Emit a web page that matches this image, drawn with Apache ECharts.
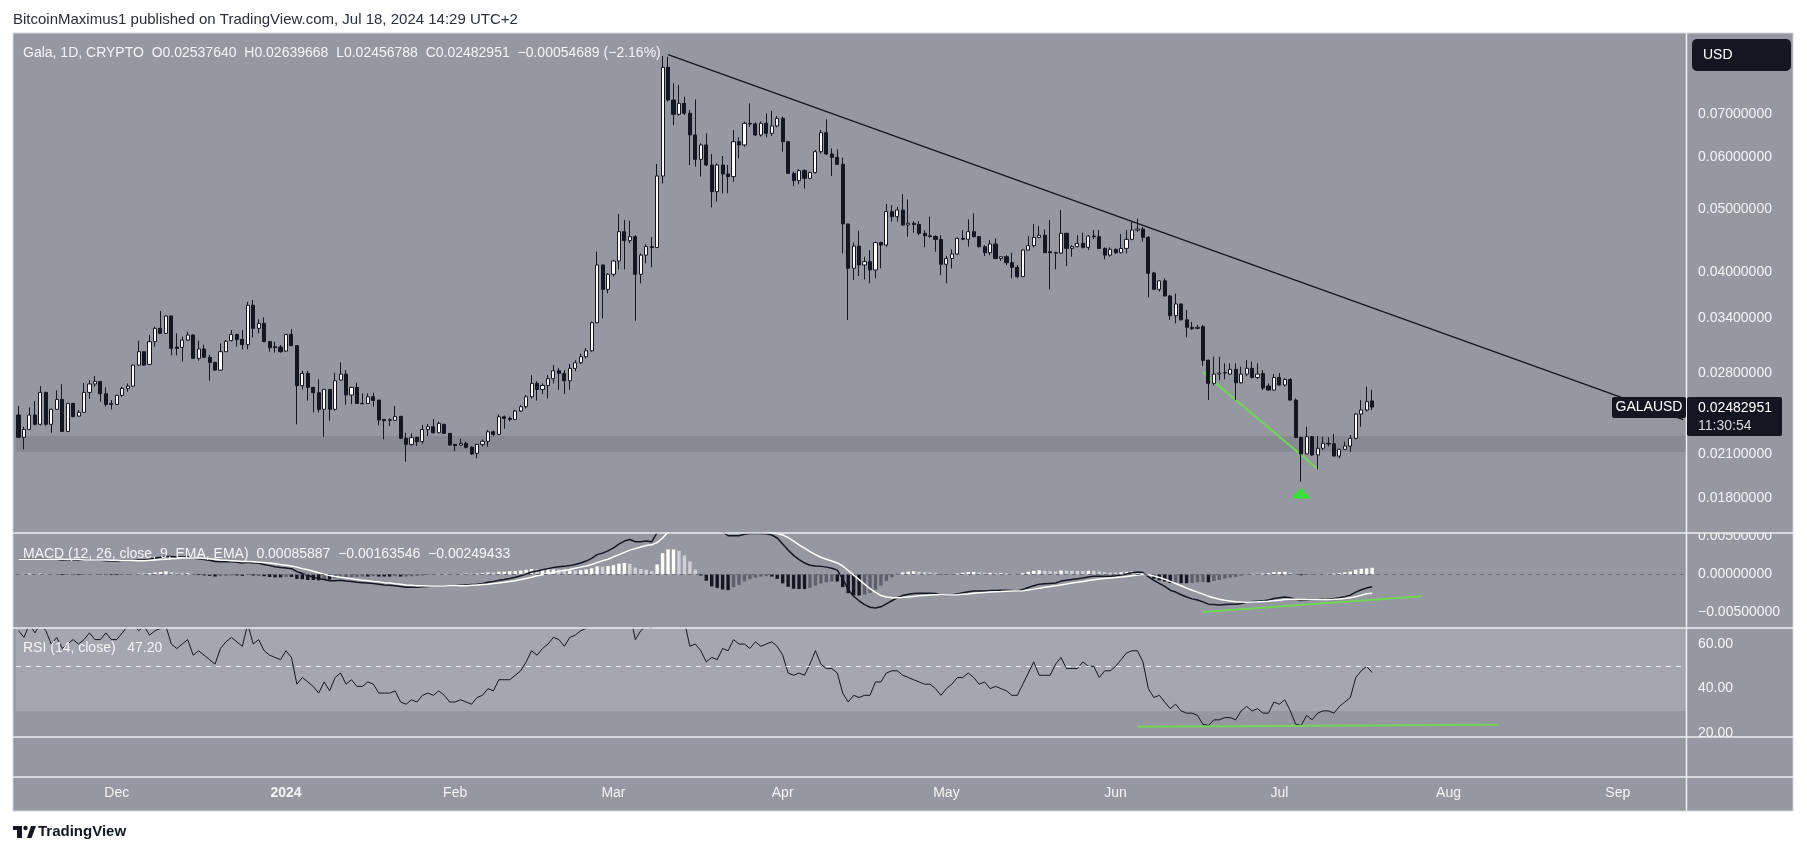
<!DOCTYPE html>
<html>
<head>
<meta charset="utf-8">
<title>GALAUSD 1D</title>
<script src="https://cdn.jsdelivr.net/npm/echarts@6.0.0/dist/echarts.min.js"></script>
<style>
  html, body { margin: 0; padding: 0; background: #ffffff; }
  #chart { width: 1807px; height: 855px; }
</style>
</head>
<body>
<div id="chart"></div>
<script>
// daily candles, Nov 13 2023 .. Jul 18 2024 (axis runs on to Sep 13 2024)
var startDay = '2023-11-13';
var dayCount = 306;

var open = [.02414,.02231,.02294,.02414,.02336,.02615,.02336,.02463,.02551,.02278,
  .02515,.02405,.02437,.02615,.02694,.02719,.02603,.02506,.02506,.02588,
  .02652,.02674,.0288,.0302,.02887,.03129,.0328,.03222,.03426,.0307,
  .03067,.03147,.03203,.0295,.03049,.0296,.02908,.0283,.0302,.0314,
  .03211,.03155,.03096,.03559,.0328,.03339,.03129,.03074,.0307,.03027,
  .03211,.03085,.02678,.02797,.02662,.02612,.02463,.02643,.02463,.02732,
  .0279,.02591,.02662,.02515,.02515,.02575,.02545,.02377,.02369,.02369,
  .02403,.02223,.02176,.02231,.02197,.02294,.02316,.02267,.02336,.02262,
  .02176,.02171,.02184,.02153,.02108,.02176,.022,.02275,.02254,.02399,
  .02385,.02377,.02448,.02486,.02575,.027,.02643,.0268,.02745,.02823,
  .02797,.02725,.02847,.02904,.02967,.0303,.03346,.04104,.03765,.03971,
  .04162,.04617,.04473,.04536,.03971,.0425,.0438,.04365,.05622,.08257,
  .07356,.06992,.0727,.07018,.065,.05962,.06274,.05845,.0532,.05845,
  .05662,.05609,.06348,.06274,.06773,.0676,.065,.06773,.06538,.0671,
  .06894,.06348,.05675,.0553,.0573,.05576,.0569,.06127,.06553,.06077,
  .06006,.0586,.04745,.04056,.04388,.04104,.04152,.04032,.04442,.04404,
  .04956,.04869,.04985,.04728,.04756,.04735,.0459,.0455,.0454,.04493,
  .04114,.042,.04266,.04509,.04495,.04617,.04536,.04378,.04286,.0442,
  .042,.04226,.04138,.0407,.03938,.04327,.04394,.04525,.0456,.043,
  .04286,.0428,.0459,.04352,.04378,.0443,.04368,.04545,.04536,.04352,
  .0425,.04337,.04286,.04352,.04493,.04644,.0466,.04525,.0399,.03765,
  .0388,.03678,.0343,.03575,.0338,.03292,.0328,.033,.0293,.027,
  .0279,.028,.0279,.02837,.02706,.0279,.02847,.02757,.02795,.02675,
  .02637,.02757,.02684,.02737,.02545,.0223,.02104,.02236,.02096,.02146,
  .02184,.0218,.02088,.02138,.02163,.02223,.02422,.02457,.0253764];

var high = [.02492,.02316,.0248,.02536,.02674,.0262,.02468,.02634,.02694,.0252,
  .0252,.02457,.02703,.02732,.02771,.02722,.02662,.02545,.02592,.02668,
  .027,.02884,.0314,.03025,.03203,.03299,.03488,.03434,.03434,.03222,
  .03185,.03241,.0321,.0314,.03096,.02988,.02912,.0311,.03147,.03261,
  .03215,.03261,.03601,.03626,.03386,.0341,.03133,.03129,.03092,.03215,
  .03272,.03092,.02823,.02823,.02666,.02739,.02647,.02647,.02803,.02908,
  .0283,.02666,.02706,.02606,.02606,.02612,.02548,.0238,.02386,.02492,
  .02405,.02267,.02262,.02234,.0233,.02339,.0238,.02358,.0234,.02265,
  .02178,.0222,.02197,.02163,.0218,.02215,.0229,.02285,.0242,.0241,
  .024,.0246,.025,.0259,.0278,.0272,.027,.0278,.0288,.0285,
  .0283,.0289,.0293,.03,.0306,.0336,.04302,.0411,.03985,.04175,
  .04915,.0481,.048,.0456,.04275,.04415,.0453,.05865,.08594,.08574,
  .07803,.07757,.07443,.07101,.07373,.06311,.06538,.06077,.0588,.06034,
  .05845,.06616,.06446,.06816,.0727,.068,.06816,.07018,.0708,.0695,
  .06935,.0636,.0571,.0576,.0576,.0571,.06164,.06616,.0687,.062,
  .06178,.06,.0475,.04442,.04634,.04226,.04327,.04457,.04457,.05092,
  .05074,.0504,.05276,.05176,.0479,.0479,.0464,.04868,.0456,.0456,
  .04236,.04337,.04523,.04644,.04823,.04926,.04545,.044,.04482,.04509,
  .04236,.0425,.04286,.04104,.04337,.04545,.04745,.04712,.04655,.0481,
  .043,.04985,.046,.04404,.0456,.046,.0456,.04644,.04644,.04368,
  .04368,.0435,.0458,.04644,.0478,.04835,.0469,.04545,.04005,.03891,
  .03915,.03692,.0371,.03583,.035,.03355,.0332,.0332,.02937,.02967,
  .02967,.02898,.02898,.02898,.02864,.02932,.02915,.02898,.0283,.027,
  .0279,.028,.0275,.0275,.0256,.02236,.02316,.02241,.02241,.02236,
  .0223,.02257,.02142,.02197,.02249,.02428,.02545,.02669,.02639668];

var low = [.02225,.02138,.02289,.02327,.02327,.02324,.02267,.0246,.02275,.02275,
  .02395,.024,.02435,.02557,.02668,.0253,.02486,.02463,.025,.02575,
  .02622,.02668,.02875,.02874,.0288,.03074,.03215,.03215,.02981,.02981,
  .02915,.03136,.02943,.02925,.02953,.02726,.02823,.02823,.0302,.03133,
  .03074,.03045,.03045,.03177,.03222,.03125,.0302,.03009,.03009,.0302,
  .0308,.02336,.02643,.0254,.02437,.02437,.02236,.02366,.02451,.02725,
  .02503,.02509,.0251,.02509,.02509,.02486,.02327,.02215,.02322,.02363,
  .02218,.02047,.02166,.02163,.02181,.02241,.02262,.02264,.02257,.02166,
  .02125,.02168,.02145,.02096,.02071,.0216,.02158,.0224,.02248,.023,
  .0236,.0237,.0244,.0247,.0256,.0254,.026,.0256,.027,.0264,
  .026,.0264,.0282,.0289,.0295,.0302,.0334,.03398,.03712,.0394,
  .0404,.0404,.0443,.0337,.03846,.04128,.0407,.0436,.05478,.07313,
  .06733,.0696,.0698,.05845,.05811,.05609,.05825,.05032,.05135,.05288,
  .05288,.0551,.05985,.06235,.0669,.06475,.06461,.06446,.0648,.0668,
  .06127,.0566,.05425,.0546,.0538,.0556,.0567,.06085,.06055,.05622,
  .05845,.04276,.03379,.03892,.03947,.039,.03846,.03915,.04056,.0438,
  .04784,.04784,.04712,.04536,.046,.0456,.0437,.0452,.043,.0396,
  .03846,.04055,.0425,.0448,.04378,.04525,.04368,.04236,.0425,.04186,
  .04165,.04104,.03915,.03915,.0393,.0432,.04368,.04509,.0428,.03765,
  .0404,.04275,.04088,.04226,.04368,.04352,.04327,.045,.0434,.04186,
  .04226,.0427,.04276,.04276,.0448,.04617,.04456,.0366,.03756,.03735,
  .03669,.0338,.03338,.03372,.03177,.03262,.0327,.0287,.02545,.0268,
  .0273,.0274,.0278,.02545,.027,.0277,.02747,.0274,.02637,.0263,
  .0263,.0268,.0267,.0254,.02225,.01907,.021,.0209,.01992,.02133,
  .0216,.02083,.02072,.02133,.0212,.02215,.02316,.02443,.02456788];

var close = [.02231,.02294,.02414,.02336,.02615,.02336,.02463,.02551,.02278,.02515,
  .024,.02437,.02615,.02694,.02719,.02603,.02506,.02515,.02588,.02652,
  .02674,.0288,.0302,.0288,.03129,.0328,.03222,.03426,.03056,.03056,
  .03147,.03203,.0295,.03049,.0296,.02908,.0283,.0302,.03133,.03211,
  .03151,.03096,.03559,.0328,.03339,.03129,.03063,.03063,.0302,.03211,
  .03085,.02678,.02797,.02662,.02612,.02463,.02643,.02463,.02725,.0279,
  .02591,.02662,.02515,.02512,.02575,.02542,.02372,.02366,.02374,.024,
  .02223,.02176,.02228,.02197,.02294,.02316,.02267,.02344,.02262,.02171,
  .02166,.02184,.02153,.02103,.02176,.022,.02275,.02254,.02399,.02385,
  .02377,.02448,.02486,.02575,.027,.02643,.0268,.02745,.02823,.02797,
  .02725,.02847,.02904,.02967,.0303,.03346,.04104,.03765,.03971,.04162,
  .04617,.04473,.04536,.03971,.0425,.0438,.04365,.05622,.08257,.07356,
  .06992,.0727,.07018,.065,.05962,.06274,.05845,.0532,.05845,.05662,
  .05609,.06348,.06274,.06773,.0676,.065,.06773,.06538,.0671,.06894,
  .06348,.05675,.0553,.0573,.05576,.0569,.06127,.06553,.06077,.06006,
  .0586,.04745,.04056,.04388,.04104,.04152,.04032,.04442,.04404,.04956,
  .04869,.04985,.04728,.04756,.04735,.0459,.0455,.0454,.04493,.04114,
  .042,.04266,.04509,.04495,.04617,.04536,.04378,.04286,.0442,.042,
  .04226,.04138,.0407,.03938,.04327,.04394,.04525,.0456,.04286,.04286,
  .0428,.0459,.04352,.04378,.0443,.04368,.04545,.04536,.04352,.0425,
  .04337,.04286,.04352,.04493,.04644,.0466,.04525,.03984,.03765,.0388,
  .03678,.0343,.03575,.0338,.03292,.03275,.03292,.02926,.027,.0279,
  .028,.02805,.02837,.02706,.0279,.02847,.02757,.0279,.02656,.02637,
  .02757,.02684,.02737,.02545,.0223,.02104,.02236,.02096,.02146,.02184,
  .0218,.02088,.02138,.02163,.02223,.02422,.02457,.0253,.02482951];

var macd = [.00205,.00205,.0021,.00205,.0021,.00205,.002,.002,.0019,.0019,
  .00185,.00185,.00185,.0019,.0019,.00185,.0018,.00175,.00175,.00175,
  .00175,.0018,.0019,.0019,.002,.00215,.00225,.0024,.00235,.0023,
  .0023,.0023,.00215,.00205,.00195,.00185,.0017,.00165,.00165,.00165,
  .0016,.0015,.0016,.0015,.00145,.0013,.00115,.001,.0009,.00085,
  .00075,.00035,.0001,-.00015,-.00035,-.0006,-.0007,-.00085,-.00085,-.0008,
  -.0009,-.00095,-.00105,-.0011,-.00115,-.0012,-.0013,-.0014,-.00145,-.0015,
  -.0016,-.0017,-.0017,-.0017,-.00165,-.0016,-.00155,-.0015,-.0015,-.0015,
  -.0015,-.00145,-.0014,-.00135,-.0013,-.0012,-.00105,-.00095,-.0008,-.0007,
  -.00055,-.0004,-.0002,.00005,.0003,.00045,.0006,.00075,.0009,.001,
  .00105,.00115,.0013,.0015,.00175,.0021,.0026,.0028,.0031,.0035,
  .004,.0044,.0046,.0043,.0043,.0044,.0043,.0055,.0076,.0089,
  .0097,.0102,.0103,.0099,.0091,.0085,.0077,.0067,.0062,.0056,
  .0051,.0051,.0051,.0053,.0054,.0054,.0054,.00535,.0052,.0048,
  .004,.0032,.0025,.00195,.0015,.0012,.0011,.00105,.00095,.0008,
  .00055,-.0006,-.002,-.0029,-.0035,-.004,-.00435,-.00445,-.0043,-.0039,
  -.0035,-.0031,-.0028,-.00265,-.00255,-.0025,-.0025,-.0025,-.00255,-.00275,
  -.0028,-.00275,-.0026,-.00245,-.0023,-.0022,-.0022,-.0022,-.00215,-.00215,
  -.0021,-.0021,-.00215,-.0022,-.002,-.00175,-.0015,-.0013,-.00125,-.0012,
  -.00115,-.0009,-.0008,-.0007,-.0006,-.0005,-.00035,-.00025,-.00025,-.00025,
  -.00025,-.0002,-.0001,.00005,.0002,.0003,.00025,-.0003,-.0008,-.0012,
  -.0016,-.0021,-.00235,-.0027,-.003,-.00325,-.0034,-.00365,-.00395,-.004,
  -.00405,-.004,-.00395,-.00395,-.00385,-.0037,-.0036,-.00355,-.0035,-.0034,
  -.0032,-.0031,-.003,-.0031,-.0033,-.00345,-.0034,-.0034,-.00335,-.0033,
  -.00325,-.0032,-.0031,-.00295,-.00275,-.00235,-.00205,-.0018,-.00163546];

var signal = [.002,.002,.002,.002,.002,.002,.002,.002,.002,.00195,
  .00195,.00195,.0019,.0019,.0019,.0019,.0019,.00185,.00185,.0018,
  .0018,.0018,.0018,.0018,.00185,.0019,.00195,.002,.00205,.0021,
  .00215,.00215,.00215,.00215,.0021,.00205,.002,.0019,.00185,.0018,
  .00175,.0017,.0017,.00165,.0016,.00155,.0015,.0014,.0013,.0012,
  .0011,.00095,.00075,.0006,.0004,.0002,0,-.00015,-.0003,-.0004,
  -.0005,-.0006,-.0007,-.0008,-.00085,-.00095,-.001,-.0011,-.00115,-.00125,
  -.0013,-.0014,-.00145,-.0015,-.0015,-.00155,-.00155,-.00155,-.00155,-.0015,
  -.0015,-.0015,-.0015,-.00145,-.0014,-.00135,-.0013,-.0012,-.00115,-.00105,
  -.00095,-.00085,-.0007,-.00055,-.0004,-.0002,-.00005,.0001,.00025,.0004,
  .00055,.00065,.0008,.00095,.0011,.0013,.00155,.0018,.002,.0023,
  .0026,.0029,.0032,.0034,.0036,.0038,.0039,.0042,.0048,.0056,
  .0064,.0071,.0078,.0082,.0085,.00865,.00855,.0083,.008,.0076,
  .0072,.0068,.0065,.00625,.00605,.00585,.0057,.0056,.0055,.0054,
  .0052,.00485,.0044,.0039,.00345,.003,.0026,.00225,.002,.00175,
  .0015,.0011,.0005,-.0001,-.0007,-.0013,-.0019,-.0024,-.0028,-.003,
  -.0031,-.0031,-.00305,-.003,-.00295,-.00285,-.0028,-.00275,-.0027,-.0027,
  -.00272,-.00272,-.0027,-.00265,-.0026,-.00252,-.00245,-.0024,-.00235,-.0023,
  -.00227,-.00223,-.00221,-.0022,-.00216,-.00208,-.00196,-.00183,-.00171,-.00161,
  -.00152,-.0014,-.00128,-.00116,-.00105,-.00094,-.00082,-.00071,-.00062,-.00054,
  -.00048,-.00043,-.00036,-.00028,-.00018,-.00008,0,-.00006,-.00021,-.00041,
  -.00065,-.00094,-.00122,-.00152,-.00182,-.0021,-.00236,-.00262,-.00289,-.00311,
  -.0033,-.00344,-.00354,-.00362,-.00367,-.00368,-.00366,-.00364,-.00361,-.00357,
  -.0035,-.00342,-.00334,-.00329,-.00329,-.00332,-.00334,-.00335,-.00335,-.00334,
  -.00332,-.0033,-.00326,-.0032,-.00311,-.00296,-.00278,-.00258,-.00249433];

var rsi = [66,63,69,65,69,66,60,63,58,60,
  62,60,62,65,62,62,65,62,62,65,
  68,69,66,68,64,66,67,68,60,58,
  60,62,55,57,55,53,51,58,61,63,
  61,59,69,60,62,57,55,54,53,57,
  54,42,45,43,41,38,43,39,45,47,
  42,44,41,41,43,42,38,38,38,39,
  34,33,35,34,37,38,37,39,37,34,
  34,35,34,33,36,37,40,39,44,44,
  44,46,48,52,57,55,58,60,63,62,
  59,63,64,66,67,72,78,68,70,72,
  76,74,74,62,66,68,67,78,86,79,
  75,72,70,59,60,57,52,54,53,58,
  57,62,60,60,58,61,59,60,61,59,
  55,47,46,47,46,51,57,51,49,49,
  47,38,34,37,36,37,37,43,43,47,
  48,48,46,45,44,43,42,42,40,37,
  40,42,45,45,47,45,42,43,40,41,
  40,39,37,37,42,47,52,46,46,46,
  51,54,49,49,49,52,50,50,45,48,
  48,50,53,56,57,57,52,40,36,37,
  34,31,33,30,29,29,28,24,23.5,26,
  26,27,27,26,30,32,30,31,29,29,
  34,33,35,30,24,23.5,28,26,29,30,
  30,29,32,34,36,45,48,50,47.2];

// axis ticks
var priceTicks = [0.018, 0.021, 0.028, 0.034, 0.04, 0.05, 0.06, 0.07];
var priceRange = [0.015904, 0.0929];
var macdTicks = [-0.005, 0, 0.005];
var macdRange = [-0.0071, 0.005463];
var rsiTicks = [20, 40, 60];
var rsiRange = [18.3, 67.2];

// drawings on the chart (category index, value)
var trendLine = [[119, 0.08637], [305, 0.023755]];
var priceDivergence = [[217, 0.02807], [238, 0.019967]];
var supportZone = [0.02118, 0.02241];
var signalArrow = [235, 0.01832];
var macdDivergence = [[217, -0.00499], [257, -0.0029]];
var rsiDivergence = [[205, 22.9], [271, 23.8]];
var rsiBand = [30, 70];

// ---------------------------------------------------------------
var months = ['Jan','Feb','Mar','Apr','May','Jun','Jul','Aug','Sep','Oct','Nov','Dec'];
var dates = [];
(function () {
  var t = Date.parse(startDay + 'T00:00:00Z');
  for (var k = 0; k < dayCount; k++) {
    dates.push(new Date(t + k * 86400000).toISOString().slice(0, 10));
  }
})();

var ln = Math.log;
var candles = open.map(function (o, i) {
  return [ln(o), ln(close[i]), ln(low[i]), ln(high[i])];
});
var hist = macd.map(function (m, i) { return m - signal[i]; });
var histBars = hist.map(function (h, i) {
  var p = i > 0 ? hist[i - 1] : h;
  var c;
  if (h >= 0) c = h >= p ? '#ffffff' : '#cfd1d7';
  else c = h <= p ? '#131722' : '#5d606b';
  return { value: h, itemStyle: { color: c } };
});

var BG = '#9598a1';
var TXT = '#f3f4f7';
var FONT = '"Liberation Sans", Arial, sans-serif';
var GL = 15.8, GR = 121;

function xAx(gi, showLabels) {
  return {
    type: 'category', gridIndex: gi, data: dates, boundaryGap: true,
    axisLine: { show: false }, axisTick: { show: false }, splitLine: { show: false },
    axisLabel: {
      show: showLabels,
      interval: function (idx, val) { return val.slice(8) === '01'; },
      margin: 9, color: TXT, fontSize: 14, fontFamily: FONT,
      formatter: function (val) {
        var m = +val.slice(5, 7);
        return m === 1 ? '{b|' + val.slice(0, 4) + '}' : months[m - 1];
      },
      rich: { b: { fontWeight: 'bold', color: TXT, fontSize: 14, fontFamily: FONT } }
    }
  };
}
function yAx(gi, min, max, ticks, fmt) {
  return {
    type: 'value', gridIndex: gi, position: 'right', min: min, max: max, scale: true,
    axisLine: { show: false }, axisTick: { show: false }, splitLine: { show: false },
    axisLabel: ticks ? {
      show: true, customValues: ticks, formatter: fmt, align: 'left', margin: 12,
      color: TXT, fontSize: 14, fontFamily: FONT
    } : { show: false }
  };
}
function minus(s) { return s.replace('-', '\u2212'); }

var option = {
  animation: false,
  backgroundColor: '#ffffff',
  grid: [
    { left: GL, right: GR, top: 34, height: 499, outerBoundsMode: 'none' },
    { left: GL, right: GR, top: 533, height: 95, outerBoundsMode: 'none' },
    { left: GL, right: GR, top: 628, height: 109, outerBoundsMode: 'none' },
    { left: GL, right: GR, top: 737, height: 40, outerBoundsMode: 'none' }
  ],
  xAxis: [xAx(0, false), xAx(1, false), xAx(2, false), xAx(3, true)],
  yAxis: [
    yAx(0, ln(priceRange[0]), ln(priceRange[1]), priceTicks.map(ln),
        function (v) { return Math.exp(v).toFixed(8); }),
    yAx(1, macdRange[0], macdRange[1], macdTicks,
        function (v) { return minus((Math.round(v * 1e6) / 1e6).toFixed(8)); }),
    yAx(2, rsiRange[0], rsiRange[1], rsiTicks,
        function (v) { return v.toFixed(2); }),
    yAx(3, 0, 1, null)
  ],
  series: [
    { // support zone, below candles
      type: 'line', xAxisIndex: 0, yAxisIndex: 0, data: [], z: 1, silent: true,
      markArea: {
        silent: true, itemStyle: { color: 'rgba(40,42,50,0.12)' },
        data: [[{ yAxis: ln(supportZone[0]) }, { yAxis: ln(supportZone[1]) }]]
      }
    },
    {
      type: 'candlestick', xAxisIndex: 0, yAxisIndex: 0, data: candles, z: 5,
      barWidth: 3.6,
      itemStyle: {
        color: '#ffffff', color0: '#131722',
        borderColor: '#131722', borderColor0: '#131722', borderWidth: 1
      },
      markLine: {
        silent: true, symbol: ['none', 'none'], label: { show: false },
        data: [
          [{ coord: [trendLine[0][0], ln(trendLine[0][1])], lineStyle: { color: '#131722', width: 1.4 } },
           { coord: [trendLine[1][0], ln(trendLine[1][1])] }],
          [{ coord: [priceDivergence[0][0], ln(priceDivergence[0][1])], lineStyle: { color: 'rgba(110,220,80,0.9)', width: 2 } },
           { coord: [priceDivergence[1][0], ln(priceDivergence[1][1])] }]
        ],
        lineStyle: { type: 'solid' }
      },
      markPoint: {
        silent: true, symbol: 'triangle', symbolSize: [19, 11],
        itemStyle: { color: '#36e236' }, label: { show: false },
        data: [{ coord: [signalArrow[0], ln(signalArrow[1])] }]
      }
    },
    {
      type: 'bar', xAxisIndex: 1, yAxisIndex: 1, data: histBars, barWidth: 3.4, z: 3,
      markLine: {
        silent: true, symbol: ['none', 'none'], label: { show: false },
        data: [
          { yAxis: 0, lineStyle: { color: '#6a6d78', type: [4, 4], width: 1 } },
          [{ coord: [macdDivergence[0][0], macdDivergence[0][1]], lineStyle: { color: 'rgba(110,220,80,0.9)', width: 2, type: 'solid' } },
           { coord: [macdDivergence[1][0], macdDivergence[1][1]] }]
        ]
      }
    },
    {
      type: 'line', xAxisIndex: 1, yAxisIndex: 1, data: macd, showSymbol: false, z: 4,
      lineStyle: { color: '#131722', width: 1.5 }
    },
    {
      type: 'line', xAxisIndex: 1, yAxisIndex: 1, data: signal, showSymbol: false, z: 4,
      lineStyle: { color: '#ffffff', width: 1.5 }
    },
    {
      type: 'line', xAxisIndex: 2, yAxisIndex: 2, data: [], z: 1, silent: true,
      markArea: {
        silent: true, itemStyle: { color: 'rgba(255,255,255,0.15)' },
        data: [[{ yAxis: rsiBand[0] }, { yAxis: rsiBand[1] }]]
      }
    },
    {
      type: 'line', xAxisIndex: 2, yAxisIndex: 2, data: rsi, showSymbol: false, z: 4,
      lineStyle: { color: '#131722', width: 1 },
      markLine: {
        silent: true, symbol: ['none', 'none'], label: { show: false },
        data: [
          { yAxis: 50, lineStyle: { color: 'rgba(255,255,255,0.8)', type: [5, 5], width: 1 } },
          [{ coord: [rsiDivergence[0][0], rsiDivergence[0][1]], lineStyle: { color: 'rgba(110,220,80,0.9)', width: 2, type: 'solid' } },
           { coord: [rsiDivergence[1][0], rsiDivergence[1][1]] }]
        ]
      }
    }
  ],
  graphic: []
};

var chart = echarts.init(document.getElementById('chart'), null, { renderer: 'canvas' });
chart.setOption(option);

// frame, pane separators, labels
var last = close.length - 1;
var yClose = chart.convertToPixel({ xAxisIndex: 0, yAxisIndex: 0 }, [last, ln(close[last])])[1];
var sep = { stroke: '#eceef2', lineWidth: 1.5 };
var g = [
  { type: 'rect', z: -10, shape: { x: 13, y: 33, width: 1780, height: 778 },
    style: { fill: BG, stroke: '#d4d6dc', lineWidth: 1 } },
  { type: 'rect', z: 60, shape: { x: 1687, y: 519, width: 105, height: 14 }, style: { fill: BG } },
  { type: 'rect', z: 60, shape: { x: 1687, y: 737, width: 105, height: 14 }, style: { fill: BG } },
  { type: 'line', z: 70, shape: { x1: 13, y1: 533, x2: 1793, y2: 533 }, style: sep },
  { type: 'line', z: 70, shape: { x1: 13, y1: 628, x2: 1793, y2: 628 }, style: sep },
  { type: 'line', z: 70, shape: { x1: 13, y1: 737, x2: 1793, y2: 737 }, style: sep },
  { type: 'line', z: 70, shape: { x1: 13, y1: 777, x2: 1793, y2: 777 }, style: sep },
  { type: 'line', z: 70, shape: { x1: 1686.5, y1: 33, x2: 1686.5, y2: 811 }, style: sep },
  { type: 'rect', z: 80, shape: { x: 1692, y: 39, width: 99, height: 32, r: 5 }, style: { fill: '#131722' } },
  { type: 'text', z: 81, style: { x: 1703, y: 55, text: 'USD', fill: '#ffffff', font: '14px ' + FONT, verticalAlign: 'middle' } },
  { type: 'text', z: 81, style: { x: 13, y: 20, text: 'BitcoinMaximus1 published on TradingView.com, Jul 18, 2024 14:29 UTC+2',
      fill: '#2a2e39', font: '15px ' + FONT, verticalAlign: 'middle' } },
  { type: 'text', z: 81, style: { x: 23, y: 53,
      text: 'Gala, 1D, CRYPTO  O0.02537640  H0.02639668  L0.02456788  C0.02482951  \u22120.00054689 (\u22122.16%)',
      fill: TXT, font: '14px ' + FONT, verticalAlign: 'middle' } },
  { type: 'text', z: 81, style: { x: 23, y: 554,
      text: 'MACD (12, 26, close, 9, EMA, EMA)  0.00085887  \u22120.00163546  \u22120.00249433',
      fill: TXT, font: '14px ' + FONT, verticalAlign: 'middle' } },
  { type: 'text', z: 81, style: { x: 23, y: 648, text: 'RSI (14, close)   47.20',
      fill: TXT, font: '14px ' + FONT, verticalAlign: 'middle' } },
  // last price tags
  { type: 'rect', z: 80, shape: { x: 1612, y: yClose - 10, width: 74, height: 21, r: 2 }, style: { fill: '#131722' } },
  { type: 'text', z: 81, style: { x: 1649, y: yClose + 0.5, text: 'GALAUSD', fill: '#ffffff', font: '14px ' + FONT,
      align: 'center', verticalAlign: 'middle' } },
  { type: 'rect', z: 80, shape: { x: 1687, y: yClose - 10, width: 95, height: 39, r: 2 }, style: { fill: '#131722' } },
  { type: 'text', z: 81, style: { x: 1698, y: yClose + 1, text: '0.02482951', fill: '#ffffff', font: '14px ' + FONT, verticalAlign: 'middle' } },
  { type: 'text', z: 81, style: { x: 1698, y: yClose + 19, text: '11:30:54', fill: '#d6d8de', font: '14px ' + FONT, verticalAlign: 'middle' } },
  // TradingView logo
  { type: 'rect', z: 81, shape: { x: 13, y: 826, width: 9, height: 4 }, style: { fill: '#131722' } },
  { type: 'rect', z: 81, shape: { x: 17, y: 826, width: 5, height: 12 }, style: { fill: '#131722' } },
  { type: 'circle', z: 81, shape: { cx: 25.5, cy: 828, r: 2.2 }, style: { fill: '#131722' } },
  { type: 'polygon', z: 81, shape: { points: [[27, 838], [31, 826], [36, 826], [31.5, 838]] }, style: { fill: '#131722' } },
  { type: 'text', z: 81, style: { x: 38, y: 832, text: 'TradingView', fill: '#131722', font: '600 15px ' + FONT, verticalAlign: 'middle' } }
];
chart.setOption({ graphic: g });
</script>
</body>
</html>
